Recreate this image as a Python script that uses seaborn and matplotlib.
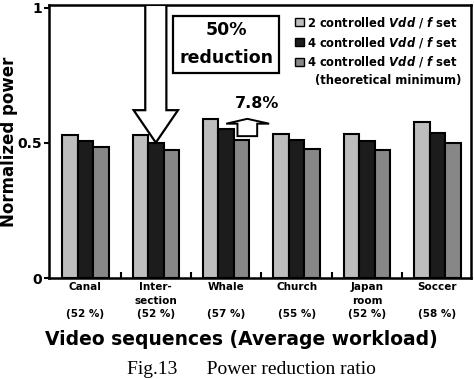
import pandas as pd
import matplotlib
matplotlib.use("Agg")
import matplotlib.pyplot as plt
import seaborn as sns
from matplotlib.patches import Patch, Polygon, FancyArrow

# Data
sequences = ["Canal", "Inter-\nsection", "Whale", "Church", "Japan\nroom", "Soccer"]
workload = ["(52 %)", "(52 %)", "(57 %)", "(55 %)", "(52 %)", "(58 %)"]
set2 = [0.529, 0.529, 0.587, 0.534, 0.534, 0.578]
set4 = [0.507, 0.501, 0.551, 0.510, 0.507, 0.538]
set4_min = [0.485, 0.474, 0.510, 0.479, 0.473, 0.499]

series = ["2 set", "4 set", "4 min"]
colors = ["#bdbdbd", "#1c1c1c", "#878787"]

rows = []
for s, vals in zip(series, [set2, set4, set4_min]):
    for seq, v in zip(sequences, vals):
        rows.append({"seq": seq, "series": s, "power": v})
df = pd.DataFrame(rows)

sns.set_style("white")
plt.rcParams["font.family"] = ["DejaVu Sans"]
plt.rcParams["text.color"] = "black"
plt.rcParams["axes.labelcolor"] = "black"
plt.rcParams["xtick.color"] = "black"
plt.rcParams["ytick.color"] = "black"
plt.rcParams["mathtext.fontset"] = "custom"
plt.rcParams["mathtext.it"] = "DejaVu Sans:italic:bold"
plt.rcParams["mathtext.rm"] = "DejaVu Sans:bold"

fig, ax = plt.subplots(figsize=(4.74, 3.79), dpi=100)
fig.subplots_adjust(left=0.103, right=0.994, bottom=0.266, top=0.987)

sns.barplot(data=df, x="seq", y="power", hue="series", order=sequences,
            hue_order=series, palette=colors, edgecolor="black", linewidth=1.5,
            width=0.66, gap=0, legend=False, ax=ax)

ax.set_xlim(-0.52, 5.48)
ax.set_ylim(0, 1.01)
for sp in ax.spines.values():
    sp.set_linewidth(1.8)
    sp.set_color("black")

# ticks
ax.set_yticks([0, 0.5, 1])
ax.set_yticklabels(["0", "0.5", "1"], fontsize=10, fontweight="bold")
ax.tick_params(axis="y", direction="out", length=3.5, width=1.5, left=True, pad=1.5)
ax.set_xticks(range(len(sequences)))
labels = []
for seq, w in zip(sequences, workload):
    if "\n" in seq:
        labels.append(seq + "\n" + w)
    else:
        labels.append(seq + "\n\n" + w)
ax.set_xticklabels(labels, fontsize=7.5, fontweight="bold", linespacing=1.4)
ax.tick_params(axis="x", length=0, pad=3)
ax.set_xticks([i + 0.5 for i in range(len(sequences) - 1)], minor=True)
ax.tick_params(axis="x", which="minor", direction="in", length=4, width=1.5, bottom=True)

ax.set_xlabel("Video sequences (Average workload)", fontsize=13.5, fontweight="bold")
ax.xaxis.set_label_coords(0.457, -0.19)
ax.set_ylabel("Normalized power", fontsize=12, fontweight="bold")
ax.yaxis.set_label_coords(-0.073, 0.5)

# legend
vf = r"$\mathit{Vdd\ /\ f}$"
handles = [Patch(facecolor=c, edgecolor="black", linewidth=1.0) for c in colors]
handles.append(Patch(visible=False))
leg_labels = ["2 controlled " + vf + " set",
              "4 controlled " + vf + " set",
              "4 controlled " + vf + " set",
              "  (theoretical minimum)"]
leg = ax.legend(handles, leg_labels, loc="upper right", bbox_to_anchor=(1.0, 1.0),
                frameon=False, prop={"size": 8.3, "weight": "bold"},
                handlelength=0.75, handleheight=0.75, handletextpad=0.25,
                labelspacing=0.42, borderaxespad=0.45)

# 50% reduction arrow down to intersection 4-set bar
x_int = sequences.index("Inter-\nsection")
tip = set4[x_int]
top = 1.01
ax.add_patch(FancyArrow(x_int, top, 0, -(top - tip), width=0.30, head_width=0.63,
                        head_length=0.12, length_includes_head=True,
                        facecolor="white", edgecolor="black", linewidth=1.6, zorder=5))
ax.text(2.0, 0.865, "50%\nreduction", ha="center", va="center", fontsize=12.5,
        fontweight="bold", linespacing=1.7,
        bbox=dict(boxstyle="square,pad=0.33", facecolor="white", edgecolor="black", linewidth=1.6))

# 7.8% marker on Whale
xw = sequences.index("Whale")
hb = set4[xw] + 0.02
pk = set4[xw] + 0.038
sb = set4_min[xw] + 0.015
pts = [(xw + 0.0, hb), (xw + 0.3, pk), (xw + 0.61, hb), (xw + 0.44, hb),
       (xw + 0.44, sb), (xw + 0.16, sb), (xw + 0.16, hb)]
ax.add_patch(Polygon(pts, closed=True, facecolor="white", edgecolor="black",
                     linewidth=1.4, zorder=5))
ax.text(xw + 0.44, pk + 0.03, "7.8%", ha="center", va="bottom", fontsize=11.5,
        fontweight="bold")

fig.text(0.53, 0.012, "Fig.13      Power reduction ratio", ha="center", va="baseline",
         fontsize=14, family="Liberation Serif")

fig.savefig("out.png", dpi=100)
